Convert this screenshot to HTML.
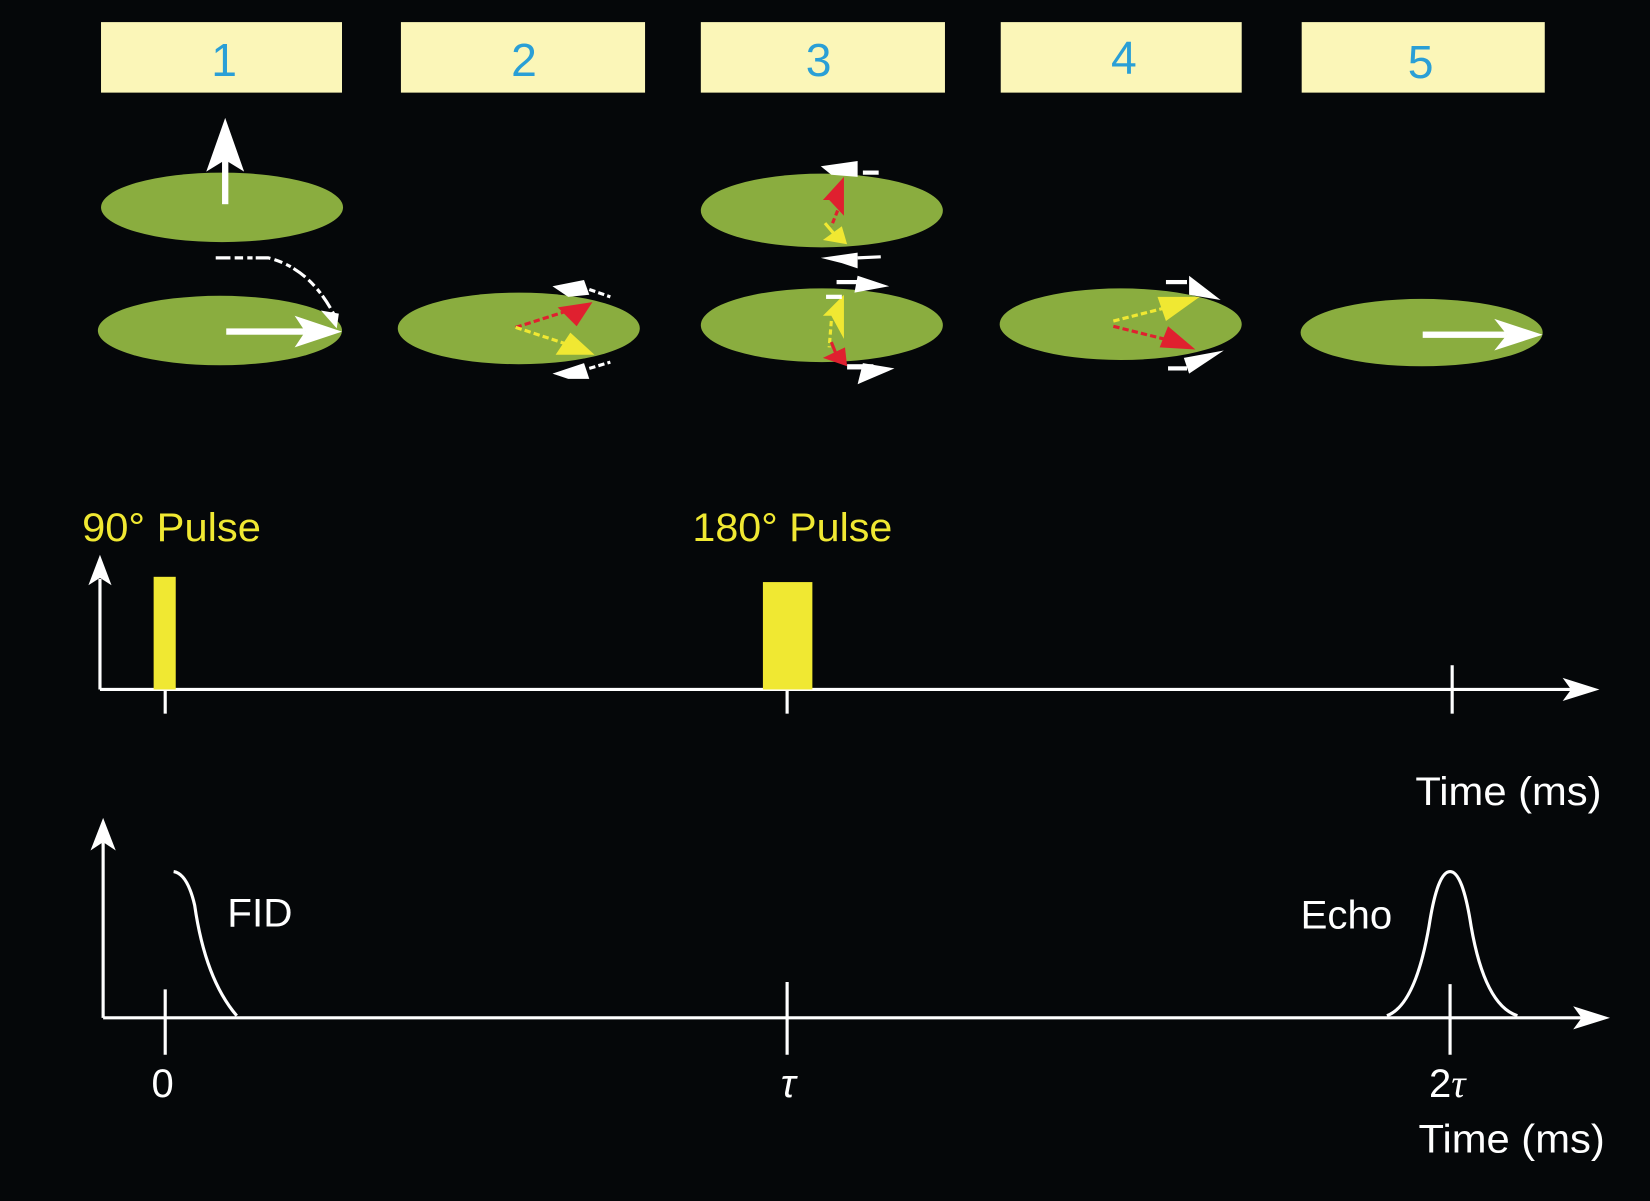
<!DOCTYPE html>
<html><head><meta charset="utf-8"><style>
html,body{margin:0;padding:0;background:#050709;}
svg{display:block}
text{font-family:"Liberation Sans",sans-serif}
</style></head><body>
<svg width="1650" height="1201" viewBox="0 0 1568 1141" preserveAspectRatio="none" xmlns="http://www.w3.org/2000/svg">
<rect width="1568" height="1141" fill="#050709"/>
<g fill="#fbf6b8">
<rect x="96" y="21" width="229" height="67"/>
<rect x="381" y="21" width="232" height="67"/>
<rect x="666" y="21" width="232" height="67"/>
<rect x="951" y="21" width="229" height="67"/>
<rect x="1237" y="21" width="231" height="67"/>
</g>
<g fill="#2a9fd6" font-size="44" text-anchor="middle">
<text x="213" y="72">1</text><text x="498" y="72">2</text><text x="778" y="72">3</text><text x="1068" y="70">4</text><text x="1350" y="74">5</text>
</g>
<g fill="#8aad3f">
<ellipse cx="211" cy="197" rx="115" ry="33"/>
<ellipse cx="209" cy="314" rx="116" ry="33"/>
<ellipse cx="493" cy="312" rx="115" ry="34"/>
<ellipse cx="781" cy="200" rx="115" ry="35"/>
<ellipse cx="781" cy="309" rx="115" ry="35"/>
<ellipse cx="1065" cy="308" rx="115" ry="34"/>
<ellipse cx="1351" cy="316" rx="115" ry="32"/>
</g>
<!-- panel 1 -->
<rect x="211" y="150" width="6" height="44" fill="#fff"/>
<polygon points="214,112 232,163 214,152 196,163" fill="#fff"/>
<rect x="215" y="312" width="75" height="6" fill="#fff"/>
<polygon points="325,315 280,300 290,315 280,330" fill="#fff"/>
<path d="M205 245 L255 245 Q295 255 318 300" stroke="#fff" stroke-width="3" fill="none" stroke-dasharray="14,4,8,4,5,3"/>
<polygon points="320,312 305,295 322,298" fill="#fff"/>
<!-- panel 2 -->
<path d="M490 311 L550 292" stroke="#e0202f" stroke-width="3" stroke-dasharray="6,3"/>
<polygon points="563,287 530,292 548,310" fill="#e0202f"/>
<path d="M490 311 L548 330" stroke="#f0e832" stroke-width="3" stroke-dasharray="6,3"/>
<polygon points="565,337 528,337 542,316" fill="#f0e832"/>
<polygon points="525,272 555,266 560,280 540,282" fill="#fff"/><path d="M560 275 L580 282" stroke="#fff" stroke-width="3" stroke-dasharray="6,3"/>
<polygon points="525,355 555,345 560,360 540,360" fill="#fff"/><path d="M560 350 L580 344" stroke="#fff" stroke-width="3" stroke-dasharray="6,3"/>
<!-- panel 3 top -->
<polygon points="802,168 802,205 788,190 782,190" fill="#e0202f"/>
<path d="M796 200 L790 215" stroke="#e0202f" stroke-width="3" stroke-dasharray="5,3"/>
<polygon points="800,215 805,232 782,228" fill="#f0e832"/>
<path d="M784 212 L795 225" stroke="#f0e832" stroke-width="3"/>
<polygon points="780,158 815,153 815,168 790,166" fill="#fff"/><rect x="820" y="162" width="15" height="4" fill="#fff"/>
<polygon points="780,245 815,240 815,255 800,250" fill="#fff"/><path d="M815 245 L837 244" stroke="#fff" stroke-width="3"/>
<!-- panel 3 bottom -->
<polygon points="802,280 802,322 790,300 782,300" fill="#f0e832"/>
<path d="M790 305 L788 330" stroke="#f0e832" stroke-width="3" stroke-dasharray="5,3"/>
<polygon points="803,330 805,348 782,340" fill="#e0202f"/>
<path d="M790 325 L796 340" stroke="#e0202f" stroke-width="3"/>
<polygon points="845,272 815,262 812,278" fill="#fff"/><rect x="785" y="280" width="15" height="4" fill="#fff"/><rect x="795" y="266" width="20" height="4" fill="#fff"/>
<polygon points="850,350 820,345 815,365" fill="#fff"/><rect x="805" y="346" width="25" height="5" fill="#fff"/>
<!-- panel 4 -->
<path d="M1058 305 L1125 288" stroke="#f0e832" stroke-width="3" stroke-dasharray="6,3"/>
<polygon points="1140,282 1100,282 1108,305" fill="#f0e832"/>
<path d="M1058 310 L1118 325" stroke="#e0202f" stroke-width="3" stroke-dasharray="6,3"/>
<polygon points="1136,332 1102,330 1110,310" fill="#e0202f"/>
<polygon points="1160,285 1130,262 1130,280" fill="#fff"/><rect x="1108" y="266" width="20" height="4" fill="#fff"/>
<polygon points="1163,333 1130,355 1125,340" fill="#fff"/><rect x="1110" y="348" width="18" height="4" fill="#fff"/>
<!-- panel 5 -->
<rect x="1352" y="315" width="80" height="6" fill="#fff"/>
<polygon points="1466,318 1420,303 1432,318 1420,333" fill="#fff"/>
<!-- axes -->
<g stroke="#fff" stroke-width="3" fill="none">
<path d="M95 655 L95 550"/><path d="M95 655 L1500 655"/>
<path d="M157 655 L157 678"/><path d="M748 655 L748 678"/><path d="M1380 632 L1380 678"/>
<path d="M98 967 L98 800"/><path d="M98 967 L1510 967"/>
<path d="M157 940 L157 1002"/><path d="M748 933 L748 1002"/><path d="M1378 935 L1378 1002"/>
<path d="M165 828 Q178 830 185 860 Q195 930 225 965"/>
<path d="M1318 965 Q1345 955 1358 880 Q1366 828 1378 828 Q1390 828 1398 880 Q1411 955 1442 965"/>
</g>
<g fill="#fff">
<polygon points="95,527 106,556 95,549 84,556"/>
<polygon points="1520,655 1485,644 1493,655 1485,666"/>
<polygon points="98,777 110,808 98,800 86,808"/>
<polygon points="1530,967 1495,956 1503,967 1495,978"/>
</g>
<g fill="#f0e832">
<rect x="146" y="548" width="21" height="107"/>
<rect x="725" y="553" width="47" height="102"/>
</g>
<g fill="#f0e832" font-size="38">
<text x="78" y="514" textLength="170" lengthAdjust="spacingAndGlyphs">90° Pulse</text><text x="658" y="514" textLength="190" lengthAdjust="spacingAndGlyphs">180° Pulse</text>
</g>
<g fill="#fff" font-size="38">
<text x="1345" y="765" textLength="177" lengthAdjust="spacingAndGlyphs">Time (ms)</text>
<text x="216" y="880" textLength="62" lengthAdjust="spacingAndGlyphs">FID</text><text x="1236" y="882" textLength="87" lengthAdjust="spacingAndGlyphs">Echo</text>
<text x="144" y="1042">0</text>
<text x="742" y="1042" font-family="Liberation Serif,serif" font-style="italic">τ</text>
<text x="1358" y="1042">2<tspan font-family="Liberation Serif,serif" font-style="italic">τ</tspan></text>
<text x="1348" y="1095" textLength="177" lengthAdjust="spacingAndGlyphs">Time (ms)</text>
</g>
</svg>
</body></html>
